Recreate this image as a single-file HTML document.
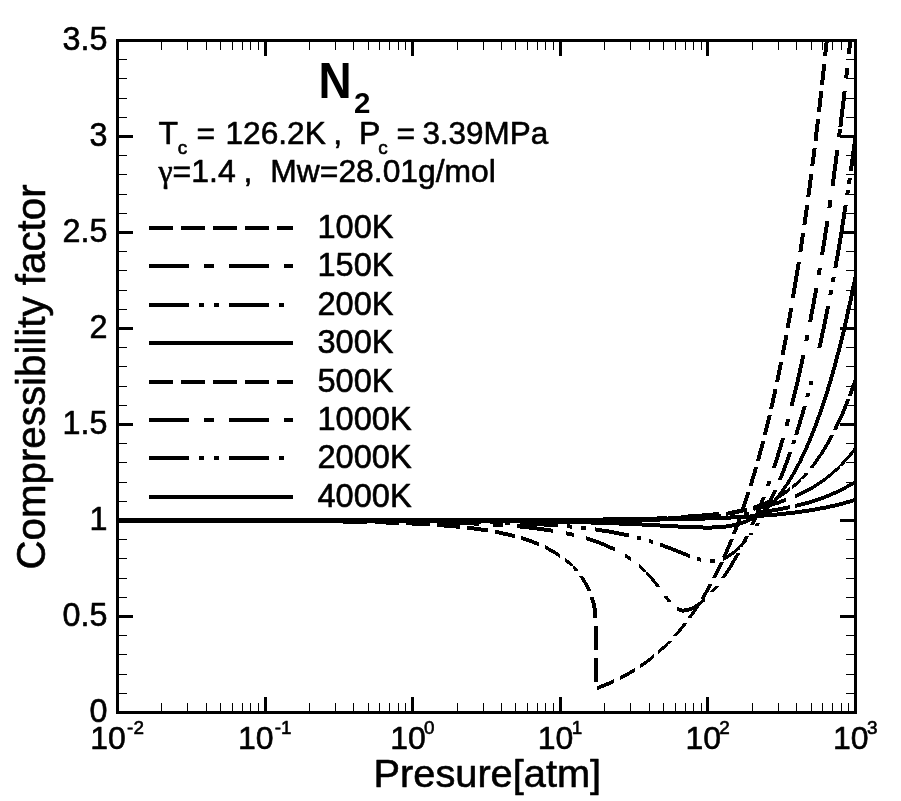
<!DOCTYPE html>
<html lang="en"><head><meta charset="utf-8"><title>N2 compressibility factor</title>
<style>html,body{margin:0;padding:0;background:#fff}body{width:901px;height:801px;overflow:hidden}</style>
</head><body>
<svg width="901" height="801" viewBox="0 0 901 801" style="display:block;font-family:'Liberation Sans', Arial, Helvetica, sans-serif">
<style>text{stroke:#000;stroke-width:0.6px;stroke-linejoin:round}</style>
<rect x="0" y="0" width="901" height="801" fill="#fff"/>
<g id="ticks" stroke="#000" fill="none" shape-rendering="crispEdges">
<path stroke-width="1" d="M161.5 712.5v-10.0M161.5 40.5v9.0M187.5 712.5v-10.0M187.5 40.5v9.0M206.5 712.5v-10.0M206.5 40.5v9.0M220.5 712.5v-10.0M220.5 40.5v9.0M232.5 712.5v-10.0M232.5 40.5v9.0M242.5 712.5v-10.0M242.5 40.5v9.0M250.5 712.5v-10.0M250.5 40.5v9.0M258.5 712.5v-10.0M258.5 40.5v9.0M309.5 712.5v-10.0M309.5 40.5v9.0M335.5 712.5v-10.0M335.5 40.5v9.0M353.5 712.5v-10.0M353.5 40.5v9.0M368.5 712.5v-10.0M368.5 40.5v9.0M379.5 712.5v-10.0M379.5 40.5v9.0M389.5 712.5v-10.0M389.5 40.5v9.0M398.5 712.5v-10.0M398.5 40.5v9.0M405.5 712.5v-10.0M405.5 40.5v9.0M457.5 712.5v-10.0M457.5 40.5v9.0M483.5 712.5v-10.0M483.5 40.5v9.0M501.5 712.5v-10.0M501.5 40.5v9.0M515.5 712.5v-10.0M515.5 40.5v9.0M527.5 712.5v-10.0M527.5 40.5v9.0M537.5 712.5v-10.0M537.5 40.5v9.0M545.5 712.5v-10.0M545.5 40.5v9.0M553.5 712.5v-10.0M553.5 40.5v9.0M604.5 712.5v-10.0M604.5 40.5v9.0M630.5 712.5v-10.0M630.5 40.5v9.0M649.5 712.5v-10.0M649.5 40.5v9.0M663.5 712.5v-10.0M663.5 40.5v9.0M675.5 712.5v-10.0M675.5 40.5v9.0M685.5 712.5v-10.0M685.5 40.5v9.0M693.5 712.5v-10.0M693.5 40.5v9.0M701.5 712.5v-10.0M701.5 40.5v9.0M752.5 712.5v-10.0M752.5 40.5v9.0M778.5 712.5v-10.0M778.5 40.5v9.0M796.5 712.5v-10.0M796.5 40.5v9.0M811.5 712.5v-10.0M811.5 40.5v9.0M822.5 712.5v-10.0M822.5 40.5v9.0M832.5 712.5v-10.0M832.5 40.5v9.0M841.5 712.5v-10.0M841.5 40.5v9.0M848.5 712.5v-10.0M848.5 40.5v9.0M117.5 693.5h9.0M855.5 693.5h-10.0M117.5 674.5h9.0M855.5 674.5h-10.0M117.5 654.5h9.0M855.5 654.5h-10.0M117.5 635.5h9.0M855.5 635.5h-10.0M117.5 597.5h9.0M855.5 597.5h-10.0M117.5 578.5h9.0M855.5 578.5h-10.0M117.5 558.5h9.0M855.5 558.5h-10.0M117.5 539.5h9.0M855.5 539.5h-10.0M117.5 501.5h9.0M855.5 501.5h-10.0M117.5 482.5h9.0M855.5 482.5h-10.0M117.5 462.5h9.0M855.5 462.5h-10.0M117.5 443.5h9.0M855.5 443.5h-10.0M117.5 405.5h9.0M855.5 405.5h-10.0M117.5 386.5h9.0M855.5 386.5h-10.0M117.5 366.5h9.0M855.5 366.5h-10.0M117.5 347.5h9.0M855.5 347.5h-10.0M117.5 309.5h9.0M855.5 309.5h-10.0M117.5 290.5h9.0M855.5 290.5h-10.0M117.5 270.5h9.0M855.5 270.5h-10.0M117.5 251.5h9.0M855.5 251.5h-10.0M117.5 213.5h9.0M855.5 213.5h-10.0M117.5 194.5h9.0M855.5 194.5h-10.0M117.5 174.5h9.0M855.5 174.5h-10.0M117.5 155.5h9.0M855.5 155.5h-10.0M117.5 117.5h9.0M855.5 117.5h-10.0M117.5 98.5h9.0M855.5 98.5h-10.0M117.5 78.5h9.0M855.5 78.5h-10.0M117.5 59.5h9.0M855.5 59.5h-10.0"/>
<path stroke-width="3" d="M265.5 712.5v-15.5M265.5 40.5v15.5M412.5 712.5v-15.5M412.5 40.5v15.5M560.5 712.5v-15.5M560.5 40.5v15.5M707.5 712.5v-15.5M707.5 40.5v15.5M117.5 616.5h15.5M855.5 616.5h-15.5M117.5 520.5h15.5M855.5 520.5h-15.5M117.5 424.5h15.5M855.5 424.5h-15.5M117.5 328.5h15.5M855.5 328.5h-15.5M117.5 232.5h15.5M855.5 232.5h-15.5M117.5 136.5h15.5M855.5 136.5h-15.5"/>
<rect x="117.5" y="40.5" width="738.0" height="672.0" stroke-width="3"/>
</g>
<g id="ylabels" font-size="32.3" text-anchor="end" fill="#000">
<text x="107.5" y="722.4">0</text>
<text x="107.5" y="626.4">0.5</text>
<text x="107.5" y="530.4">1</text>
<text x="107.5" y="434.4">1.5</text>
<text x="107.5" y="338.4">2</text>
<text x="107.5" y="242.4">2.5</text>
<text x="107.5" y="146.4">3</text>
<text x="107.5" y="50.4">3.5</text>
</g>
<g id="xlabels" font-size="32" fill="#000">
<text x="90.3" y="749.3">10<tspan font-size="18.9" dy="-14.9" dx="1.2">-2</tspan></text>
<text x="237.9" y="749.3">10<tspan font-size="18.9" dy="-14.9" dx="1.2">-1</tspan></text>
<text x="390.2" y="749.3">10<tspan font-size="18.9" dy="-14.9" dx="-1.7">0</tspan></text>
<text x="537.8" y="749.3">10<tspan font-size="18.9" dy="-14.9" dx="-1.7">1</tspan></text>
<text x="685.4" y="749.3">10<tspan font-size="18.9" dy="-14.9" dx="-1.7">2</tspan></text>
<text x="833.0" y="749.3">10<tspan font-size="18.9" dy="-14.9" dx="-1.7">3</tspan></text>
</g>
<text id="xtitle" transform="translate(487.3 786.7) scale(1.02 1)" font-size="39" text-anchor="middle">Presure[atm]</text>
<text id="ytitle" transform="translate(44.6 377) rotate(-90)" font-size="40.3" text-anchor="middle">Compressibility factor</text>
<text id="n2" transform="translate(318.5 97.9) scale(0.918 1)" font-size="50" font-weight="bold" style="stroke:none">N</text>
<text id="n2sub" x="354.0" y="112.7" font-size="29.5" font-weight="bold" style="stroke:none">2</text>
<text id="l1" x="158.5" y="143.8" font-size="32">T<tspan font-size="18.9" dy="10.2" dx="-0.2">c</tspan><tspan dy="-10.2" dx="0.4"> =</tspan><tspan x="225.5" textLength="100.3" lengthAdjust="spacingAndGlyphs">126.2K</tspan><tspan x="333.2">,</tspan><tspan x="358.9">P</tspan><tspan font-size="18.9" dy="10.6" dx="-1.9">c</tspan><tspan dy="-10.6" dx="-0.3"> =</tspan><tspan x="422.4" textLength="125.8" lengthAdjust="spacingAndGlyphs">3.39MPa</tspan></text>
<text id="l2" x="158.5" y="181.7" font-size="32"><tspan font-family="Liberation Serif, serif">γ</tspan><tspan x="172.5">=1.4</tspan><tspan x="243.6">,</tspan><tspan x="270.3" textLength="225.6" lengthAdjust="spacingAndGlyphs">Mw=28.01g/mol</tspan></text>
<g id="legend" fill="#000" shape-rendering="crispEdges">
<path d="M149 226h24v4h-24zM181 226h24v4h-24zM213 226h24v4h-24zM245 226h24v4h-24zM277 226h16v4h-16z"/>
<path d="M149 264h40v4h-40zM204 264h10v4h-10zM229 264h40v4h-40zM284 264h9v4h-9z"/>
<path d="M149 303h40v4h-40zM199 303h5v4h-5zM214 303h5v4h-5zM229 303h40v4h-40zM279 303h5v4h-5z"/>
<rect x="149" y="341" width="144" height="4"/>
<path d="M149 380h24v4h-24zM181 380h24v4h-24zM213 380h24v4h-24zM245 380h24v4h-24zM277 380h16v4h-16z"/>
<path d="M149 418h40v4h-40zM204 418h10v4h-10zM229 418h40v4h-40zM284 418h9v4h-9z"/>
<path d="M149 456h40v4h-40zM199 456h5v4h-5zM214 456h5v4h-5zM229 456h40v4h-40zM279 456h5v4h-5z"/>
<rect x="149" y="495" width="144" height="4"/>
</g>
<g id="legtext" font-size="32.6" fill="#000">
<text x="317.5" y="237.7">100K</text>
<text x="317.5" y="275.7">150K</text>
<text x="317.5" y="314.7">200K</text>
<text x="317.5" y="352.7">300K</text>
<text x="317.5" y="391.7">500K</text>
<text x="317.5" y="429.7">1000K</text>
<text x="317.5" y="467.7">2000K</text>
<text x="317.5" y="506.7">4000K</text>
</g>
<defs><clipPath id="cp"><rect x="116" y="39" width="741" height="675"/></clipPath></defs>
<g id="curves" fill="#000" clip-path="url(#cp)" shape-rendering="crispEdges">
<path id="T100" d="M117.5 518.5L141.8 518.5L141.8 522.5L117.5 522.5zM149.9 518.5L174.2 518.6L174.2 522.6L149.9 522.5zM182.2 518.6L206.5 518.6L206.5 522.6L182.2 522.6zM214.6 518.6L238.8 518.7L238.8 522.7L214.6 522.6zM246.9 518.7L271.1 518.8L271.1 522.8L246.9 522.7zM279.2 518.9L303.3 519L303.3 523L279.2 522.9zM311.3 519.1L335.3 519.4L335.3 523.4L311.3 523.1zM343.3 519.5L367.2 520L367.2 524L343.3 523.5zM375.1 520.2L398.6 520.9L398.6 524.9L375.1 524.2zM406.4 521.2L429.5 522.4L429.5 526.4L406.4 525.2zM437.1 522.9L459.5 524.8L459.5 528.8L437.1 526.9zM466.8 525.6L477.9 527L488.2 528.6L488.2 532.6L477.9 531L466.8 529.6zM495.1 529.8L505.4 531.9L514.9 534.2L514.9 538.2L505.4 535.9L495.1 533.8zM521.2 536L530.6 539.1L539.1 542.4L539.1 546.4L530.6 543.1L521.2 540zM544.7 545L552.7 549.2L560.1 553.9L560.1 557.9L552.7 553.2L544.7 549zM564.7 557.3L568.8 560.7L572.6 564.3L572.6 568.3L568.8 564.7L564.7 561.3zM570.6 566.3L575.1 571.2L579.1 571.2L574.6 566.3zM578.7 575.7L581.3 579.5L583.6 583.3L585.7 587.1L587.6 591.2L591.6 591.2L589.7 587.1L587.6 583.3L585.3 579.5L582.7 575.7zM589.8 597.1L591.3 602.3L592.4 607.5L593.1 612.7L593.5 617.6L597.5 617.6L597.1 612.7L596.4 607.5L595.3 602.3L593.8 597.1zM593.5 625.7L593.5 650L597.5 650L597.5 625.7zM593.6 658.1L593.6 682.3L597.6 682.3L597.6 658.1zM596.9 686.2L605.7 682.8L614.1 679.1L614.1 683.1L605.7 686.8L596.9 690.2zM619.6 676.5L627.4 672.3L635.1 667.7L635.1 671.7L627.4 676.3L619.6 680.5zM640 664.5L647.1 659.4L653.9 654.1L653.9 658.1L647.1 663.4L640 668.5zM658.3 650.4L667.6 641.7L667.6 645.7L658.3 654.4zM665.6 643.7L668.7 640.5L672.7 640.5L669.6 643.7zM672.6 636.3L678.2 629.8L683.7 623L687.7 623L682.2 629.8L676.6 636.3zM687.1 618.4L692.1 611.4L697 604L701 604L696.1 611.4L691.1 618.4zM700.2 599.1L704.7 591.4L709 583.6L713 583.6L708.7 591.4L704.2 599.1zM711.8 578.3L719.9 562.1L723.9 562.1L715.8 578.3zM722.4 556.5L729.7 539.4L733.7 539.4L726.4 556.5zM732 533.7L738.6 516L742.6 516L736 533.7zM740.7 510L746.7 491.7L750.7 491.7L744.7 510zM748.7 485.6L754.2 466.8L758.2 466.8L752.7 485.6zM756 460.5L761.2 441.4L765.2 441.4L760 460.5zM762.8 434.9L767.6 415.4L771.6 415.4L766.8 434.9zM769.1 408.8L773.6 389L777.6 389L773.1 408.8zM775 382.3L779.2 362.2L783.2 362.2L779 382.3zM780.5 355.4L784.4 335L788.4 335L784.5 355.4zM785.7 328.2L789.3 307.5L793.3 307.5L789.7 328.2zM791 297.6L796.8 262L800.8 262L795 297.6zM798.4 252L801.2 232.6L805.2 232.6L802.4 252zM802.4 224.5L805.2 205L809.2 205L806.4 224.5zM806.3 197L809.3 174L813.3 174L810.3 197zM810.3 166L812.6 148.3L816.6 148.3L814.3 166zM813.5 140.8L816.1 119.1L820.1 119.1L817.5 140.8zM817 111.6L819.4 90.7L823.4 90.7L821 111.6zM819.9 85.4L822.3 63.7L826.3 63.7L823.9 85.4zM823.1 56.2L825.5 33.8L829.5 33.8L827.1 56.2z"/>
<path id="T150" d="M117.5 518.5L158 518.5L158 522.5L117.5 522.5zM173.2 518.5L183.3 518.5L183.3 522.5L173.2 522.5zM198.5 518.5L238.9 518.6L238.9 522.6L198.5 522.5zM254.1 518.6L264.2 518.6L264.2 522.6L254.1 522.6zM279.4 518.6L319.8 518.8L319.8 522.8L279.4 522.6zM334.9 518.8L344.9 518.9L344.9 522.9L334.9 522.8zM360 519L400.1 519.4L400.1 523.4L360 523zM415 519.7L425 519.9L425 523.9L415 523.7zM439.8 520.2L478.9 521.7L478.9 525.7L439.8 524.2zM493.2 522.5L502.7 523.1L502.7 527.1L493.2 526.5zM516.8 524.2L535.7 526.3L552.8 528.8L552.8 532.8L535.7 530.3L516.8 528.2zM565.6 531.1L573.8 533L573.8 537L565.6 535.1zM585.8 536.2L593.7 538.7L601.1 541.4L608.2 544.4L614.9 547.6L614.9 551.6L608.2 548.4L601.1 545.4L593.7 542.7L585.8 540.2zM624.6 553.1L630.7 557.1L630.7 561.1L624.6 557.1zM639.2 563.8L645.5 569.7L645.5 573.7L639.2 567.8zM643.5 571.7L650.1 578.8L656.6 586.9L660.6 586.9L654.1 578.8L647.5 571.7zM663 595.7L667.4 601.5L671.4 601.5L667 595.7zM677.2 606.8L680 608.1L682.9 608.6L685.9 608.4L689.2 607.6L692.8 606.1L696.5 603.9L700.5 601L704.7 597.4L704.7 601.4L700.5 605L696.5 607.9L692.8 610.1L689.2 611.6L685.9 612.4L682.9 612.6L680 612.1L677.2 610.8zM710.2 591.7L714.8 586.2L718.8 586.2L714.2 591.7zM721.3 577.5L729.1 565.6L736.8 552.5L740.8 552.5L733.1 565.6L725.3 577.5zM742 542.5L745.3 535.7L749.3 535.7L746 542.5zM750.1 525.3L756.1 511.4L761.9 496.6L765.9 496.6L760.1 511.4L754.1 525.3zM765.8 486L767.5 481L771.5 481L769.8 486zM771.9 468L776.5 453.4L781 438L785 438L780.5 453.4L775.9 468zM784.4 426L786.2 419L790.2 419L788.4 426zM789.6 406L795.7 381L801.5 354.5L805.5 354.5L799.7 381L793.6 406zM804.4 341L805.6 335L809.6 335L808.4 341zM808.1 322L814.4 288L818.4 288L812.1 322zM816.7 275L817.9 268L821.9 268L820.7 275zM820.1 255L825.4 221L829.4 221L824.1 255zM827.3 208L828.5 200L832.5 200L831.3 208zM830.6 185.5L835.4 149.7L839.4 149.7L834.6 185.5zM837 137.1L838.1 128.8L842.1 128.8L841 137.1zM838.3 127.4L842.6 91.4L846.6 91.4L842.3 127.4zM844.2 77.9L845.3 68.2L849.3 68.2L848.2 77.9zM846.9 54L849.1 34.1L853.1 34.1L850.9 54z"/>
<path id="T200" d="M117.5 518.5L158 518.5L158 522.5L117.5 522.5zM168.1 518.5L173.2 518.5L173.2 522.5L168.1 522.5zM183.3 518.5L188.4 518.5L188.4 522.5L183.3 522.5zM198.5 518.5L239 518.5L239 522.5L198.5 522.5zM249.1 518.5L254.1 518.5L254.1 522.5L249.1 522.5zM264.3 518.6L269.3 518.6L269.3 522.6L264.3 522.6zM279.4 518.6L319.9 518.6L319.9 522.6L279.4 522.6zM330 518.6L335 518.7L335 522.7L330 522.6zM345.1 518.7L350.2 518.7L350.2 522.7L345.1 522.7zM360.3 518.7L400.6 518.9L400.6 522.9L360.3 522.7zM410.6 519L415.7 519L415.7 523L410.6 523zM425.7 519.1L430.7 519.2L430.7 523.2L425.7 523.1zM440.7 519.3L480.5 520L480.5 524L440.7 523.3zM490.4 520.2L495.3 520.4L495.3 524.4L490.4 524.2zM505.1 520.7L510 520.8L510 524.8L505.1 524.7zM519.8 521.2L539.9 522.2L558 523.5L558 527.5L539.9 526.2L519.8 525.2zM567.4 524.2L572 524.7L572 528.7L567.4 528.2zM581.2 525.6L585.7 526.2L585.7 530.2L581.2 529.6zM594.7 527.3L612.5 530.1L629 533.5L629 537.5L612.5 534.1L594.7 531.3zM637.1 535.5L641.1 536.6L641.1 540.6L637.1 539.5zM648.9 538.9L652.7 540.1L652.7 544.1L648.9 542.9zM660.3 542.7L669.8 546.2L689.5 554L689.5 558L669.8 550.2L660.3 546.7zM697 556.6L701 557.7L701 561.7L697 560.6zM709.8 559L714.7 558.8L714.7 562.8L709.8 563zM722.9 556.9L727.2 554.9L731.5 552.2L735.8 548.9L740.2 544.9L740.2 548.9L735.8 552.9L731.5 556.2L727.2 558.9L722.9 560.9zM738.2 546.9L743.5 541L747.5 541L742.2 546.9zM748 535.4L750.1 532.5L754.1 532.5L752 535.4zM754.2 526.4L756.2 523.3L760.2 523.3L758.2 526.4zM759.9 517L766.8 504.2L773.5 490L777.5 490L770.8 504.2L763.9 517zM777.8 480L783.1 466.5L788.4 452L792.4 452L787.1 466.5L781.8 480zM791.1 444L792.4 440L796.4 440L795.1 444zM794.1 435L798.4 420.9L802.7 406L806.7 406L802.4 420.9L798.1 435zM805.2 397L806.3 393L810.3 393L809.2 397zM808.4 385L809.4 381L813.4 381L812.4 385zM817.3 348L821.9 327.2L826.2 305.7L830.2 305.7L825.9 327.2L821.3 348zM828.3 295.3L829.3 290.1L833.3 290.1L832.3 295.3zM830.7 282.3L831.7 277.1L835.7 277.1L834.7 282.3zM833.3 268.4L838.6 237.6L843.7 205L847.7 205L842.6 237.6L837.3 268.4zM845.2 195.2L846 190.4L850 190.4L849.2 195.2zM846.9 183.9L847.7 178.4L851.7 178.4L850.9 183.9zM848.8 171L853.5 136.6L857.5 136.6L852.8 171z"/>
<path id="T300" d="M117.5 518.5L409.2 518.6L478.2 518.8L529.5 519.3L570 519.9L604.7 520.9L637.9 522.3L691.1 525.2L702.6 525.5L712.1 525.5L721.8 525L730.3 523.9L738.1 522.2L745.2 519.8L752.1 516.7L758.5 512.9L764.8 508.2L770.8 502.7L770.8 506.7L764.8 512.2L758.5 516.9L752.1 520.7L745.2 523.8L738.1 526.2L730.3 527.9L721.8 529L712.1 529.5L702.6 529.5L691.1 529.2L637.9 526.3L604.7 524.9L570 523.9L529.5 523.3L478.2 522.8L409.2 522.6L117.5 522.5zM768.8 504.7L774.9 498L780.8 490.5L786.7 481.8L792.4 472.2L798.1 461.4L803.7 449.7L809.1 437L814.5 423.2L819.7 408.4L824.8 392.9L829.9 375.9L834.8 358.3L839.7 339.2L844.4 319.5L849 298.6L853.5 276.8L857.5 276.8L853 298.6L848.4 319.5L843.7 339.2L838.8 358.3L833.9 375.9L828.8 392.9L823.7 408.4L818.5 423.2L813.1 437L807.7 449.7L802.1 461.4L796.4 472.2L790.7 481.8L784.8 490.5L778.9 498L772.8 504.7z"/>
<path id="T500" d="M117.5 518.5L141.8 518.5L141.8 522.5L117.5 522.5zM149.9 518.5L174.2 518.5L174.2 522.5L149.9 522.5zM182.3 518.5L206.6 518.5L206.6 522.5L182.3 522.5zM214.7 518.5L239 518.5L239 522.5L214.7 522.5zM247.1 518.5L271.4 518.5L271.4 522.5L247.1 522.5zM279.5 518.5L303.8 518.5L303.8 522.5L279.5 522.5zM311.9 518.5L336.2 518.5L336.2 522.5L311.9 522.5zM344.3 518.5L368.6 518.5L368.6 522.5L344.3 522.5zM376.7 518.5L401 518.5L401 522.5L376.7 522.5zM409.1 518.5L433.4 518.5L433.4 522.5L409.1 522.5zM441.5 518.5L465.7 518.4L465.7 522.4L441.5 522.5zM473.8 518.4L498.1 518.4L498.1 522.4L473.8 522.4zM506.2 518.4L530.4 518.3L530.4 522.3L506.2 522.4zM538.5 518.3L562.7 518.2L562.7 522.2L538.5 522.3zM570.8 518.2L594.9 518L594.9 522L570.8 522.2zM602.9 517.9L626.9 517.6L626.9 521.6L602.9 521.9zM634.9 517.5L658.6 516.9L658.6 520.9L634.9 521.5zM666.4 516.6L689.6 515.5L689.6 519.5L666.4 520.6zM697.2 515L708.8 514L719.3 512.8L719.3 516.8L708.8 518L697.2 519zM726.4 511.8L736.9 509.9L746.6 507.7L746.6 511.7L736.9 513.9L726.4 515.8zM752.9 505.9L762 502.8L770.5 499.2L770.5 503.2L762 506.8L752.9 509.9zM775.8 496.4L783.1 492.1L790 487.1L790 491.1L783.1 496.1L775.8 500.4zM792.4 485.2L796.7 481.5L801 477.4L801 481.4L796.7 485.5L792.4 489.2zM799 479.4L805.4 472.5L809.4 472.5L803 479.4zM809.1 468.1L814.7 460.7L820 452.8L825.2 444.3L830.3 435L834.3 435L829.2 444.3L824 452.8L818.7 460.7L813.1 468.1zM832.8 430.1L839.8 415.3L846.5 399L850.5 399L843.8 415.3L836.8 430.1zM847.8 395.7L853.5 380L857.5 380L851.8 395.7z"/>
<path id="T1000" d="M117.5 518.5L158 518.5L158 522.5L117.5 522.5zM173.2 518.5L183.3 518.5L183.3 522.5L173.2 522.5zM198.5 518.5L239 518.5L239 522.5L198.5 522.5zM254.2 518.5L264.3 518.5L264.3 522.5L254.2 522.5zM279.5 518.5L320 518.5L320 522.5L279.5 522.5zM335.2 518.5L345.3 518.5L345.3 522.5L335.2 522.5zM360.5 518.5L401 518.5L401 522.5L360.5 522.5zM416.1 518.4L426.2 518.4L426.2 522.4L416.1 522.4zM441.4 518.4L481.8 518.3L481.8 522.3L441.4 522.4zM497 518.3L507.1 518.3L507.1 522.3L497 522.3zM522.2 518.2L562.5 518L562.5 522L522.2 522.2zM577.5 517.8L587.5 517.7L587.5 521.7L577.5 521.8zM602.5 517.5L642.1 516.6L642.1 520.6L602.5 521.5zM656.8 516.1L666.5 515.7L666.5 519.7L656.8 520.1zM681 515L700.8 513.6L718.5 512L718.5 516L700.8 517.6L681 519zM732 510.3L740.9 509L740.9 513L732 514.3zM753.7 506.7L762.4 504.9L770.5 502.8L778.3 500.6L785.6 498.1L785.6 502.1L778.3 504.6L770.5 506.8L762.4 508.9L753.7 510.7zM795 494.4L801.4 491.5L807.6 488.3L813.5 485L819.2 481.3L824.8 477.4L830.1 473.2L835.3 468.7L840.4 463.8L840.4 467.8L835.3 472.7L830.1 477.2L824.8 481.4L819.2 485.3L813.5 489L807.6 492.3L801.4 495.5L795 498.4zM838.4 465.8L846.1 457.5L853.5 448.4L857.5 448.4L850.1 457.5L842.4 465.8z"/>
<path id="T2000" d="M117.5 518.5L158 518.5L158 522.5L117.5 522.5zM168.1 518.5L173.2 518.5L173.2 522.5L168.1 522.5zM183.3 518.5L188.4 518.5L188.4 522.5L183.3 522.5zM198.5 518.5L239 518.5L239 522.5L198.5 522.5zM249.1 518.5L254.2 518.5L254.2 522.5L249.1 522.5zM264.3 518.5L269.4 518.5L269.4 522.5L264.3 522.5zM279.5 518.5L320 518.5L320 522.5L279.5 522.5zM330.1 518.5L335.2 518.5L335.2 522.5L330.1 522.5zM345.3 518.5L350.4 518.5L350.4 522.5L345.3 522.5zM360.5 518.5L401 518.5L401 522.5L360.5 522.5zM411.1 518.5L416.2 518.5L416.2 522.5L411.1 522.5zM426.3 518.5L431.3 518.5L431.3 522.5L426.3 522.5zM441.4 518.4L481.9 518.4L481.9 522.4L441.4 522.4zM492 518.4L497.1 518.4L497.1 522.4L492 522.4zM507.2 518.3L512.2 518.3L512.2 522.3L507.2 522.3zM522.3 518.3L562.6 518.1L562.6 522.1L522.3 522.3zM572.7 518.1L577.7 518L577.7 522L572.7 522.1zM587.8 518L592.8 517.9L592.8 521.9L587.8 522zM602.8 517.8L642.7 517.2L642.7 521.2L602.8 521.8zM652.6 517L657.6 516.9L657.6 520.9L652.6 521zM667.4 516.6L672.3 516.4L672.3 520.4L667.4 520.6zM682.1 516.1L702.3 515.2L720.6 514.1L720.6 518.1L702.3 519.2L682.1 520.1zM730 513.4L734.7 513L734.7 517L730 517.4zM743.9 512.1L748.5 511.6L748.5 515.6L743.9 516.1zM757.6 510.6L774.5 508.1L790 505.2L790 509.2L774.5 512.1L757.6 514.6zM795 504.1L803.7 501.9L812.1 499.5L820.2 496.8L827.8 493.9L835.2 490.7L842.2 487.3L848.9 483.7L855.5 479.7L855.5 483.7L848.9 487.7L842.2 491.3L835.2 494.7L827.8 497.9L820.2 500.8L812.1 503.5L803.7 505.9L795 508.1z"/>
<path id="T4000" d="M117.5 518.5L558.7 518.3L641.9 517.8L673.2 517.3L700 516.7L727.9 515.7L752.3 514.4L773.8 512.8L793.2 510.8L810.8 508.3L827 505.3L841.8 501.9L855.5 497.8L855.5 501.8L841.8 505.9L827 509.3L810.8 512.3L793.2 514.8L773.8 516.8L752.3 518.4L727.9 519.7L700 520.7L673.2 521.3L641.9 521.8L558.7 522.3L117.5 522.5z"/>
</g>
</svg>
</body></html>
